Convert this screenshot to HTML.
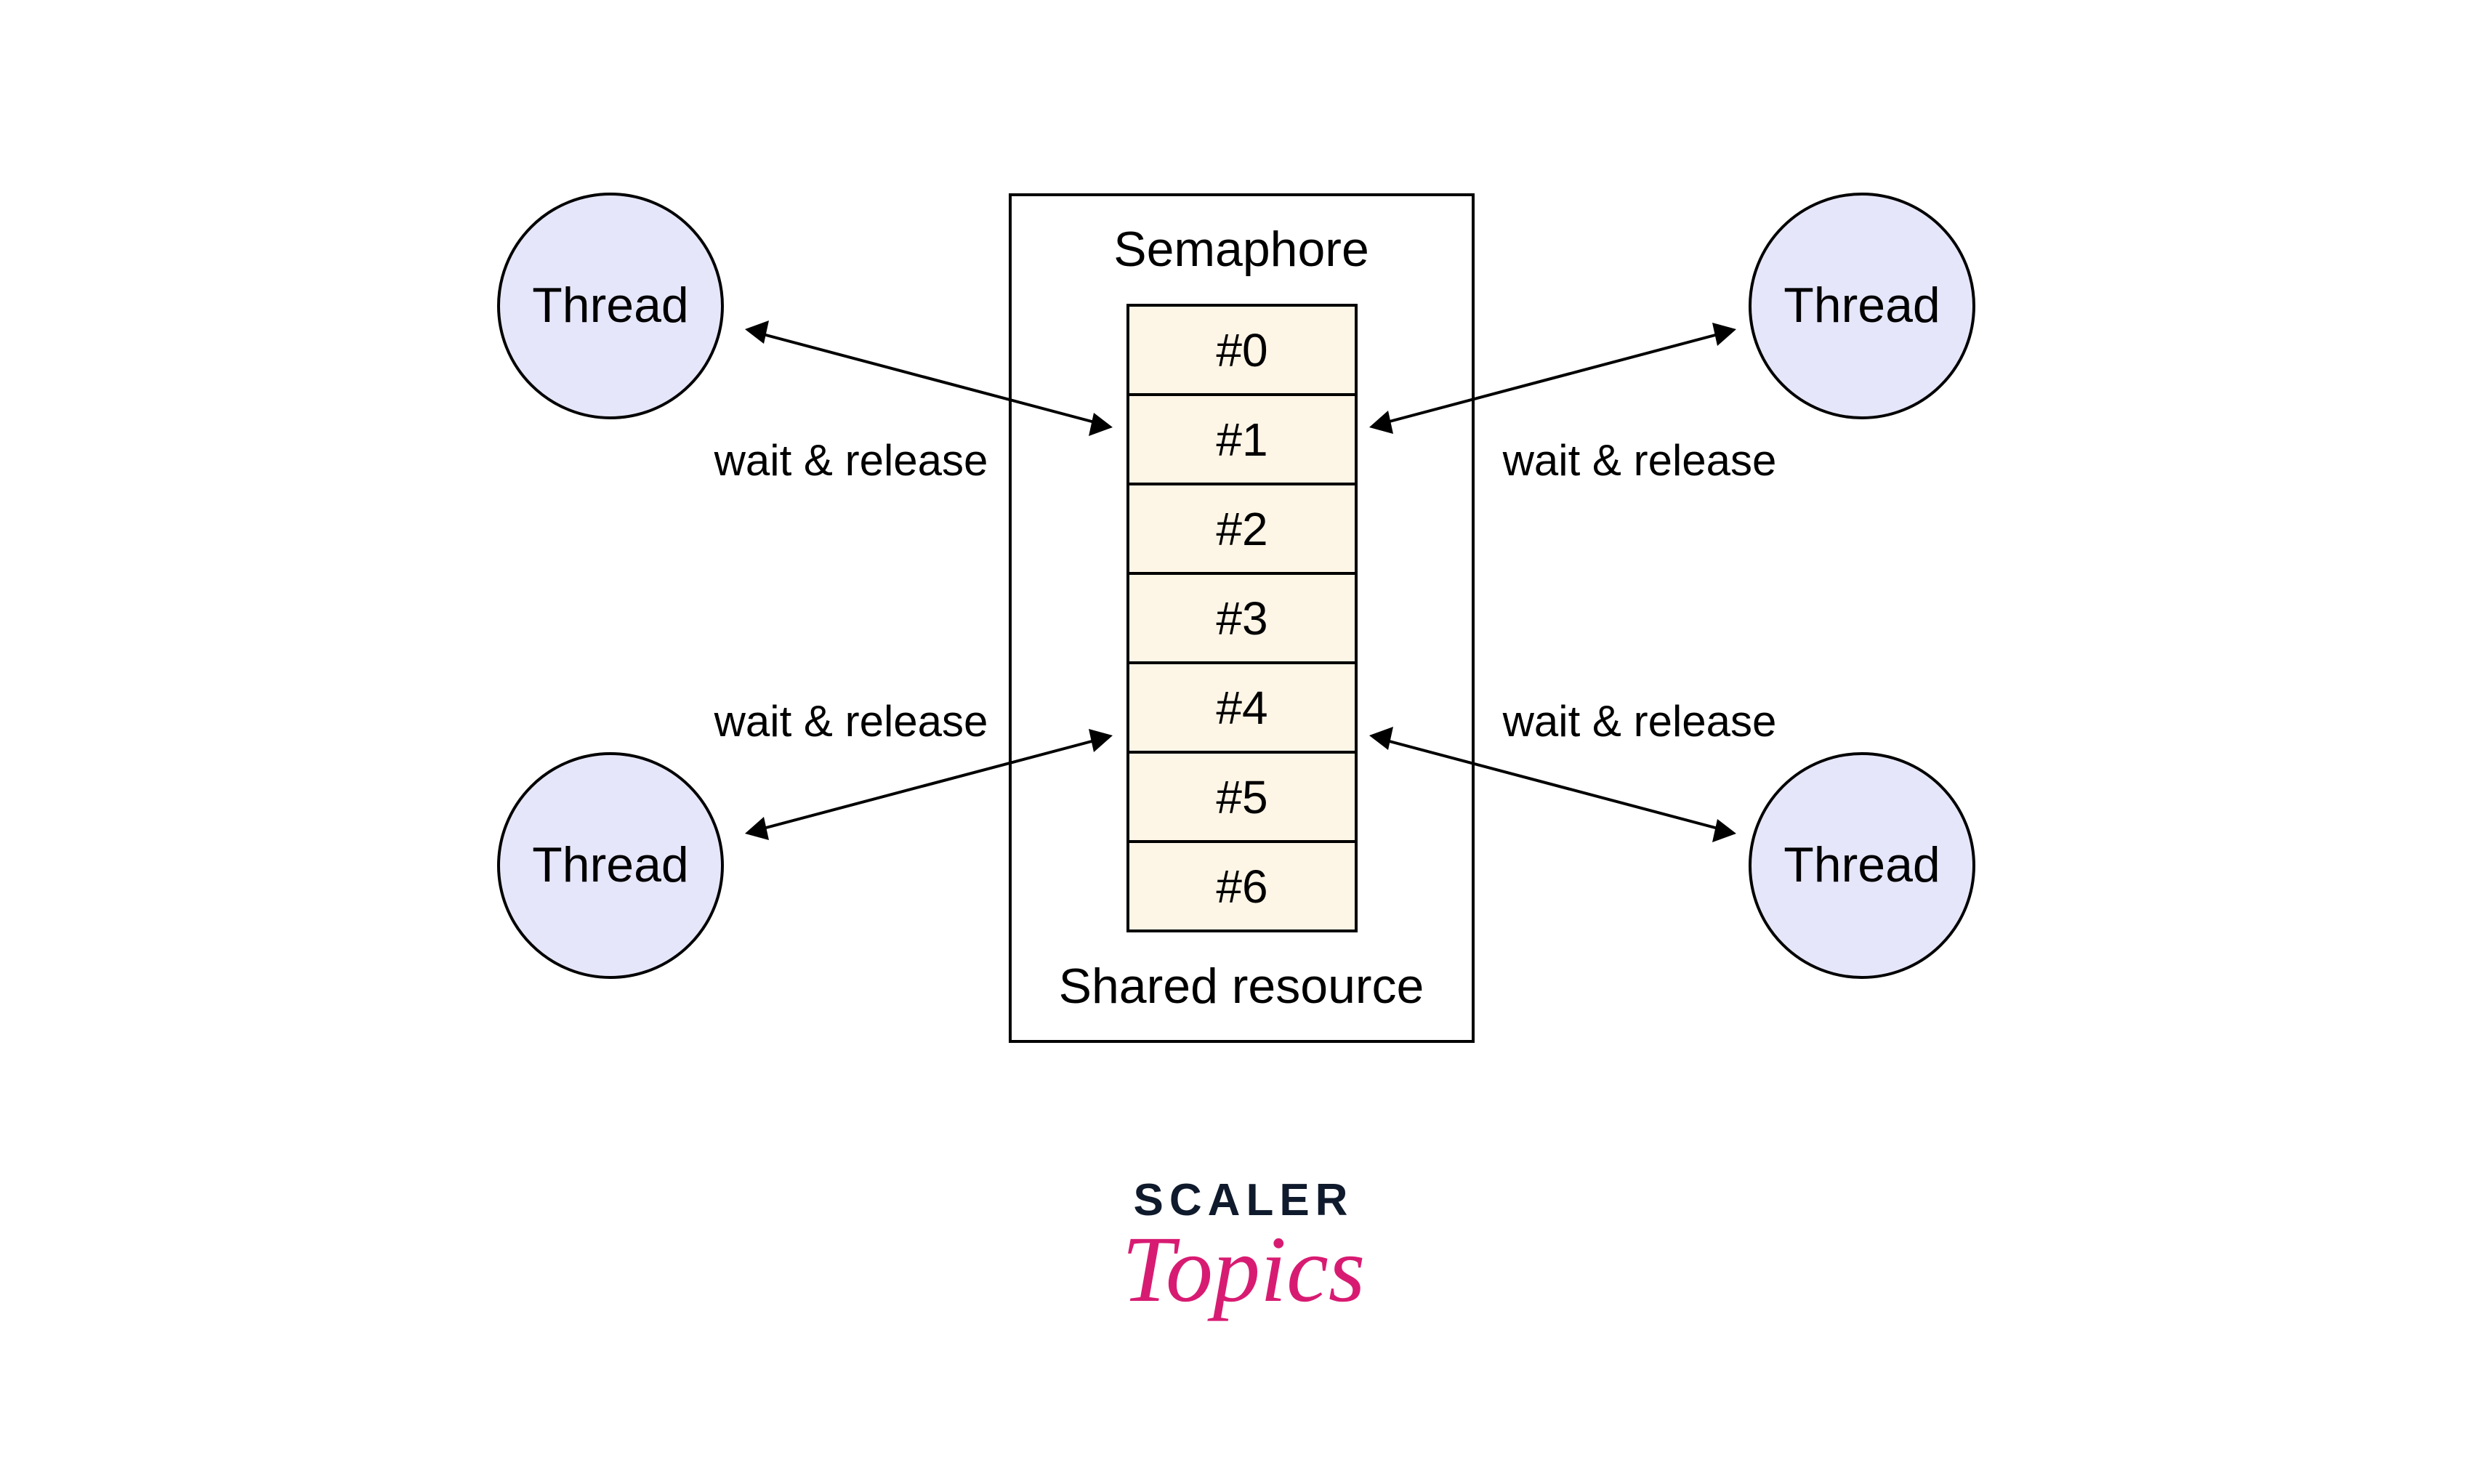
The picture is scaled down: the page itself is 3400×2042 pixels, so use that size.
<!DOCTYPE html>
<html><head><meta charset="utf-8"><style>
html,body{margin:0;padding:0;background:#fff;}
svg{display:block;}
text{font-family:"Liberation Sans",sans-serif;fill:#000;}
</style></head><body>
<svg width="3400" height="2042" viewBox="0 0 3400 2042" xmlns="http://www.w3.org/2000/svg">
<rect x="1390" y="268" width="637" height="1165" fill="#fff" stroke="#000" stroke-width="4"/>
<text x="1708" y="366" font-size="68" text-anchor="middle">Semaphore</text>
<g stroke="#000" stroke-width="4" fill="#fdf5e6">
<rect x="1552" y="420" width="314" height="123"/>
<rect x="1552" y="543" width="314" height="123"/>
<rect x="1552" y="666" width="314" height="123"/>
<rect x="1552" y="789" width="314" height="123"/>
<rect x="1552" y="912" width="314" height="123"/>
<rect x="1552" y="1035" width="314" height="123"/>
<rect x="1552" y="1158" width="314" height="123"/>
</g>
<g font-size="64" text-anchor="middle">
<text x="1709" y="504">#0</text>
<text x="1709" y="627">#1</text>
<text x="1709" y="750">#2</text>
<text x="1709" y="873">#3</text>
<text x="1709" y="996">#4</text>
<text x="1709" y="1119">#5</text>
<text x="1709" y="1242">#6</text>
</g>
<text x="1708" y="1380" font-size="68" text-anchor="middle">Shared resource</text>
<g fill="#e6e6fa" stroke="#000" stroke-width="4">
<circle cx="840" cy="421" r="154"/>
<circle cx="2562" cy="421" r="154"/>
<circle cx="840" cy="1191" r="154"/>
<circle cx="2562" cy="1191" r="154"/>
</g>
<g font-size="68" text-anchor="middle">
<text x="840" y="443">Thread</text>
<text x="2562" y="443">Thread</text>
<text x="840" y="1213">Thread</text>
<text x="2562" y="1213">Thread</text>
</g>
<g stroke="#000" stroke-width="4">
<line x1="1050" y1="460" x2="1506" y2="581"/>
<line x1="1908" y1="581" x2="2364" y2="460"/>
<line x1="1050" y1="1140" x2="1506" y2="1019"/>
<line x1="1908" y1="1019" x2="2364" y2="1140"/>
</g>
<g fill="#000">
<polygon points="1025,453 1058,441 1051,473"/>
<polygon points="1531,588 1498,600 1505,568"/>
<polygon points="1884,588 1910,565 1917,597"/>
<polygon points="2389,453 2363,476 2356,444"/>
<polygon points="1025,1147 1051,1124 1058,1156"/>
<polygon points="1531,1012 1505,1035 1498,1003"/>
<polygon points="1884,1012 1917,1000 1910,1032"/>
<polygon points="2389,1147 2356,1159 2363,1127"/>
</g>
<g font-size="60" text-anchor="middle">
<text x="1171" y="654">wait &amp; release</text>
<text x="2256" y="654">wait &amp; release</text>
<text x="1171" y="1013">wait &amp; release</text>
<text x="2256" y="1013">wait &amp; release</text>
</g>
<text x="1711" y="1672" font-size="62" font-weight="bold" text-anchor="middle" letter-spacing="8" style="fill:#0f1a2c">SCALER</text>
<text x="1711" y="1790" font-size="130" font-style="italic" text-anchor="middle" style="fill:#d81b72;font-family:'Liberation Serif',serif">Topics</text>
</svg>
</body></html>
